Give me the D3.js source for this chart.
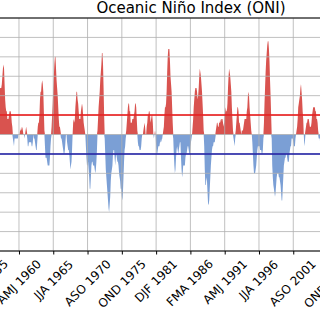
<!DOCTYPE html>
<html>
<head>
<meta charset="utf-8">
<script src="https://cdn.jsdelivr.net/npm/d3@7"></script>
<style>
  html, body { margin: 0; padding: 0; background: #fff; overflow: hidden; }
  .canvas { position: relative; width: 320px; height: 320px; overflow: hidden; }
  svg { display: block; font-family: "DejaVu Sans", sans-serif; }
  .xlabel {
    position: absolute;
    font-family: "DejaVu Sans", sans-serif;
    font-size: 12px;
    line-height: 12px;
    white-space: nowrap;
    color: #000;
    transform-origin: 50% 50%;
  }
</style>
</head>
<body>
<div class="canvas"></div>
<script>
// ONI values, 3-month running seasons DJF..NDJ, 1950 - 2006
const startYear = 1950;
const seasons = ['DJF', 'JFM', 'FMA', 'MAM', 'AMJ', 'MJJ', 'JJA', 'JAS', 'ASO', 'SON', 'OND', 'NDJ'];
const oni = [
  -1.5, -1.3, -1.2, -1.2, -1.1, -0.9, -0.5, -0.4, -0.4, -0.4, -0.6, -0.8, // 1950
  -0.8, -0.5, -0.2, 0.2, 0.4, 0.6, 0.7, 0.9, 1.0, 1.2, 1.0, 0.8,         // 1951
  0.5, 0.4, 0.3, 0.3, 0.2, 0.0, -0.1, 0.0, 0.2, 0.1, 0.0, 0.1,           // 1952
  0.4, 0.6, 0.6, 0.7, 0.8, 0.8, 0.7, 0.7, 0.8, 0.8, 0.8, 0.8,            // 1953
  0.8, 0.5, 0.0, -0.4, -0.5, -0.5, -0.6, -0.8, -0.9, -0.8, -0.7, -0.7,   // 1954
  -0.7, -0.6, -0.7, -0.8, -0.8, -0.7, -0.7, -0.7, -1.1, -1.4, -1.7, -1.5, // 1955
  -1.1, -0.8, -0.6, -0.5, -0.5, -0.5, -0.6, -0.6, -0.5, -0.4, -0.4, -0.4, // 1956
  -0.2, 0.0, 0.3, 0.6, 0.8, 1.1, 1.2, 1.2, 1.2, 1.3, 1.5, 1.7,           // 1957
  1.8, 1.7, 1.3, 0.9, 0.7, 0.6, 0.6, 0.4, 0.4, 0.4, 0.5, 0.6,            // 1958
  0.6, 0.6, 0.5, 0.3, 0.2, -0.1, -0.2, -0.3, -0.1, -0.1, -0.1, -0.1,     // 1959
  -0.1, -0.1, -0.1, 0.0, 0.0, 0.0, 0.1, 0.1, 0.2, 0.1, 0.2, 0.1,         // 1960
  0.0, 0.0, -0.1, 0.0, 0.1, 0.2, 0.1, -0.1, -0.3, -0.3, -0.2, -0.2,      // 1961
  -0.2, -0.2, -0.2, -0.3, -0.3, -0.2, 0.0, -0.1, -0.1, -0.2, -0.3, -0.4, // 1962
  -0.4, -0.2, 0.2, 0.3, 0.3, 0.5, 0.9, 1.1, 1.1, 1.3, 1.4, 1.3,          // 1963
  1.1, 0.6, 0.1, -0.3, -0.6, -0.6, -0.6, -0.7, -0.8, -0.8, -0.8, -0.8,   // 1964
  -0.6, -0.3, -0.1, 0.2, 0.5, 0.8, 1.2, 1.5, 1.8, 2.0, 2.0, 1.7,         // 1965
  1.4, 1.2, 1.0, 0.7, 0.4, 0.2, 0.2, 0.1, -0.1, -0.1, -0.2, -0.3,        // 1966
  -0.4, -0.5, -0.5, -0.4, -0.2, 0.0, 0.0, -0.2, -0.3, -0.4, -0.4, -0.5,  // 1967
  -0.7, -0.9, -0.8, -0.7, -0.4, 0.0, 0.3, 0.4, 0.3, 0.4, 0.7, 0.9,       // 1968
  1.1, 1.1, 0.9, 0.8, 0.6, 0.4, 0.4, 0.4, 0.6, 0.7, 0.8, 0.7,            // 1969
  0.5, 0.3, 0.2, 0.1, 0.0, -0.3, -0.6, -0.8, -0.8, -0.7, -0.9, -1.1,     // 1970
  -1.4, -1.4, -1.1, -0.8, -0.7, -0.7, -0.8, -0.8, -0.8, -0.9, -1.0, -0.9, // 1971
  -0.7, -0.4, 0.1, 0.4, 0.7, 0.9, 1.1, 1.4, 1.6, 1.8, 2.1, 2.1,          // 1972
  1.8, 1.2, 0.5, -0.1, -0.5, -0.9, -1.1, -1.3, -1.5, -1.7, -1.9, -2.0,   // 1973
  -1.8, -1.6, -1.2, -1.0, -0.9, -0.8, -0.5, -0.4, -0.4, -0.6, -0.8, -0.6, // 1974
  -0.5, -0.6, -0.7, -0.7, -0.8, -1.0, -1.1, -1.2, -1.4, -1.4, -1.6, -1.7, // 1975
  -1.5, -1.1, -0.7, -0.4, -0.3, -0.1, 0.1, 0.3, 0.5, 0.7, 0.8, 0.8,      // 1976
  0.6, 0.6, 0.3, 0.3, 0.3, 0.4, 0.4, 0.4, 0.5, 0.6, 0.8, 0.8,            // 1977
  0.7, 0.4, 0.1, -0.2, -0.3, -0.3, -0.4, -0.4, -0.4, -0.3, -0.1, 0.0,    // 1978
  0.0, 0.1, 0.2, 0.3, 0.2, 0.0, 0.0, 0.2, 0.3, 0.5, 0.5, 0.6,            // 1979
  0.6, 0.5, 0.3, 0.4, 0.5, 0.5, 0.3, 0.0, -0.1, 0.0, 0.1, 0.0,           // 1980
  -0.3, -0.5, -0.5, -0.4, -0.3, -0.3, -0.3, -0.2, -0.2, -0.1, -0.2, -0.1, // 1981
  0.0, 0.1, 0.2, 0.5, 0.7, 0.7, 0.8, 1.1, 1.6, 2.0, 2.2, 2.2,            // 1982
  2.2, 1.9, 1.5, 1.3, 1.1, 0.7, 0.3, -0.1, -0.5, -0.8, -1.0, -0.9,       // 1983
  -0.6, -0.4, -0.3, -0.4, -0.5, -0.4, -0.3, -0.2, -0.2, -0.6, -0.9, -1.1, // 1984
  -1.0, -0.8, -0.8, -0.8, -0.8, -0.6, -0.5, -0.5, -0.4, -0.3, -0.3, -0.4, // 1985
  -0.5, -0.5, -0.3, -0.2, -0.1, 0.0, 0.2, 0.4, 0.7, 0.9, 1.1, 1.2,       // 1986
  1.2, 1.2, 1.1, 0.9, 1.0, 1.2, 1.5, 1.7, 1.6, 1.5, 1.3, 1.1,            // 1987
  0.8, 0.5, 0.1, -0.3, -0.9, -1.3, -1.3, -1.1, -1.2, -1.5, -1.8, -1.8,   // 1988
  -1.7, -1.4, -1.1, -0.8, -0.6, -0.4, -0.3, -0.3, -0.2, -0.2, -0.2, -0.1, // 1989
  0.1, 0.2, 0.3, 0.3, 0.2, 0.2, 0.3, 0.3, 0.4, 0.3, 0.4, 0.4,            // 1990
  0.4, 0.3, 0.2, 0.3, 0.5, 0.6, 0.7, 0.6, 0.6, 0.8, 1.2, 1.5,            // 1991
  1.7, 1.6, 1.5, 1.3, 1.1, 0.7, 0.4, 0.1, -0.1, -0.2, -0.3, -0.1,        // 1992
  0.1, 0.3, 0.5, 0.7, 0.7, 0.6, 0.3, 0.3, 0.2, 0.1, 0.0, 0.1,            // 1993
  0.1, 0.1, 0.2, 0.3, 0.4, 0.4, 0.4, 0.4, 0.6, 0.7, 1.0, 1.1,            // 1994
  1.0, 0.7, 0.5, 0.3, 0.1, 0.0, -0.2, -0.5, -0.8, -1.0, -1.0, -1.0,      // 1995
  -0.9, -0.8, -0.6, -0.4, -0.3, -0.3, -0.3, -0.3, -0.4, -0.4, -0.4, -0.5, // 1996
  -0.5, -0.4, -0.1, 0.3, 0.8, 1.2, 1.6, 1.9, 2.1, 2.3, 2.4, 2.4,         // 1997
  2.2, 1.9, 1.4, 1.0, 0.5, -0.1, -0.8, -1.1, -1.3, -1.4, -1.5, -1.6,     // 1998
  -1.5, -1.3, -1.1, -1.0, -1.0, -1.0, -1.1, -1.1, -1.2, -1.3, -1.5, -1.7, // 1999
  -1.7, -1.4, -1.1, -0.8, -0.7, -0.6, -0.6, -0.5, -0.5, -0.6, -0.7, -0.7, // 2000
  -0.7, -0.5, -0.4, -0.3, -0.3, -0.1, -0.1, -0.1, -0.2, -0.3, -0.3, -0.3, // 2001
  -0.1, 0.0, 0.1, 0.2, 0.4, 0.7, 0.8, 0.9, 1.0, 1.2, 1.3, 1.1,           // 2002
  0.9, 0.6, 0.4, 0.0, -0.3, -0.2, 0.1, 0.2, 0.3, 0.3, 0.4, 0.4,          // 2003
  0.4, 0.3, 0.2, 0.2, 0.2, 0.3, 0.5, 0.6, 0.7, 0.7, 0.7, 0.7,            // 2004
  0.6, 0.6, 0.4, 0.4, 0.3, 0.1, -0.1, -0.1, -0.1, -0.3, -0.6, -0.8,      // 2005
  -0.9, -0.8, -0.6, -0.4, -0.1, 0.0, 0.1, 0.3, 0.5, 0.8, 0.9, 0.9        // 2006
];
// x ticks every 62 seasons, starting at DJF 1950
const tickIndex = [0, 62, 124, 186, 248, 310, 372, 434, 496, 558, 620, 682];
const tickLabels = tickIndex.map(i => seasons[i % 12] + ' ' + (startYear + Math.floor(i / 12)));
const yTicks = d3.range(-3, 3.01, 0.5);
const thresholds = { warm: 0.5, cold: -0.5 };

const width = 320, height = 320;
const canvas = d3.select('.canvas');
const svg = canvas.append('svg')
    .attr('width', width)
    .attr('height', height);

// the plot is wider than the 320px view; it is cropped on both sides
const plotTop = 18, plotBottom = 251;
const plotLeft = -49.6, pxPerSeason = 0.553;
const nTotal = 820; // full series length of the original figure

const x = d3.scaleLinear()
    .domain([0, nTotal])
    .range([plotLeft, plotLeft + nTotal * pxPerSeason]);
const y = d3.scaleLinear()
    .domain([-3, 3])
    .range([plotBottom, plotTop]);

const data = oni.map((v, i) => ({ i, v }));

// filled areas
svg.append('path')
    .datum(data)
    .attr('fill', '#d9534f')
    .attr('d', d3.area().x(d => x(d.i)).y0(y(0)).y1(d => y(Math.max(d.v, 0))));
svg.append('path')
    .datum(data)
    .attr('fill', '#7b9fd5')
    .attr('d', d3.area().x(d => x(d.i)).y0(y(0)).y1(d => y(Math.min(d.v, 0))));

// grid
const grid = svg.append('g').attr('stroke', '#b0b0b0').attr('stroke-width', 0.8);
grid.selectAll('.hg').data(yTicks).enter().append('line')
    .attr('x1', 0).attr('x2', width)
    .attr('y1', d => y(d)).attr('y2', d => y(d));
grid.selectAll('.vg').data(tickIndex).enter().append('line')
    .attr('x1', d => x(d)).attr('x2', d => x(d))
    .attr('y1', plotTop).attr('y2', plotBottom);

// threshold lines
svg.append('line')
    .attr('x1', 0).attr('x2', width)
    .attr('y1', y(thresholds.warm)).attr('y2', y(thresholds.warm))
    .attr('stroke', '#ee1111').attr('stroke-width', 1.5);
svg.append('line')
    .attr('x1', 0).attr('x2', width)
    .attr('y1', y(thresholds.cold)).attr('y2', y(thresholds.cold))
    .attr('stroke', '#1a1aa6').attr('stroke-width', 1.5);

// spines
svg.append('line').attr('x1', 0).attr('x2', width)
    .attr('y1', plotTop).attr('y2', plotTop).attr('stroke', '#000').attr('stroke-width', 1);

const xAxisGroup = svg.append('g')
    .attr('transform', `translate(0, ${plotBottom})`);
const xAxis = d3.axisBottom(x)
    .tickValues(tickIndex)
    .tickFormat('')
    .tickSize(3.5)
    .tickSizeOuter(0);
xAxisGroup.call(xAxis);
xAxisGroup.select('.domain').remove();
xAxisGroup.append('line').attr('x1', 0).attr('x2', width)
    .attr('stroke', '#000').attr('stroke-width', 1);
xAxisGroup.selectAll('.tick line').attr('stroke', '#000');

// tick labels as html, turned 45 degrees and centred on their tick
const labelSize = 12;
canvas.selectAll('.xlabel')
    .data(tickIndex)
    .enter().append('div')
    .attr('class', 'xlabel')
    .text((d, k) => tickLabels[k])
    .each(function (d) {
        const w = this.offsetWidth, h = this.offsetHeight;
        const half = (w + h) * Math.SQRT1_2 / 2; // half the rotated box
        d3.select(this)
            .style('left', (x(d) - w / 2) + 'px')
            .style('top', (plotBottom + 7 + half - h / 2) + 'px')
            .style('transform', 'rotate(-45deg)');
    });

// title
svg.append('text')
    .attr('x', 191)
    .attr('y', 13)
    .attr('text-anchor', 'middle')
    .attr('font-size', 15)
    .attr('fill', '#000')
    .text('Oceanic Niño Index (ONI)');
</script>
</body>
</html>
